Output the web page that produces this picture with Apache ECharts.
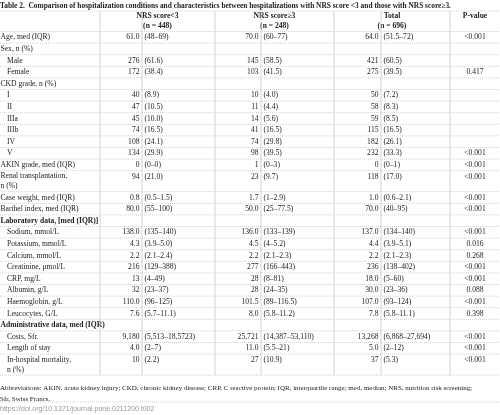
<!DOCTYPE html>
<html>
<head>
<meta charset="utf-8">
<script src="https://cdn.jsdelivr.net/npm/echarts@6/dist/echarts.min.js"></script>
<style>html,body{margin:0;padding:0;background:#fff}#main{width:500px;height:415px}</style>
</head>
<body>
<div id="main"></div>
<script>
// table data
const labels = ["Age, med (IQR)", "Sex, n (%)", "Male", "Female", "CKD grade, n (%)", "I", "II", "IIIa", "IIIb", "IV", "V",
  "AKIN grade, med (IQR)", "Renal transplantation,\nn (%)", "Case weight, med (IQR)", "Barthel index, med (IQR)",
  "Laboratory data, [med (IQR)]", "Sodium, mmol/L", "Potassium, mmol/L", "Calcium, mmol/L", "Creatinine, μmol/L",
  "CRP, mg/L", "Albumin, g/L", "Haemoglobin, g/L", "Leucocytes, G/L", "Administrative data, med (IQR)",
  "Costs, Sfr.", "Length of stay", "In-hospital mortality,\nn (%)"];
const indent = [0,0,1,1,0,1,1,1,1,1,1,0,0,0,0,0,1,1,1,1,1,1,1,1,0,1,1,1];
const bold = [0,0,0,0,0,0,0,0,0,0,0,0,0,0,0,1,0,0,0,0,0,0,0,0,1,0,0,0];
const lowVal = ["61.0","","276","172","","40","47","45","74","108","134","0","94","0.8","80.0","","138.0","4.3","2.2","216","13","32","110.0","7.6","","9,180","4.0","10"];
const lowIqr = ["(48–69)","","(61.6)","(38.4)","","(8.9)","(10.5)","(10.0)","(16.5)","(24.1)","(29.9)","(0–0)","(21.0)","(0.5–1.5)","(55–100)","","(135–140)","(3.9–5.0)","(2.1–2.4)","(129–388)","(4–49)","(23–37)","(96–125)","(5.7–11.1)","","(5,513–18,5723)","(2–7)","(2.2)"];
const highVal = ["70.0","","145","103","","10","11","14","41","74","98","1","23","1.7","50.0","","136.0","4.5","2.2","277","28","28","101.5","8.0","","25,721","11.0","27"];
const highIqr = ["(60–77)","","(58.5)","(41.5)","","(4.0)","(4.4)","(5.6)","(16.5)","(29.8)","(39.5)","(0–3)","(9.7)","(1–2.9)","(25–77.5)","","(133–139)","(4–5.2)","(2.1–2.3)","(166–443)","(8–81)","(24–35)","(89–116.5)","(5.8–11.2)","","(14,387–53,110)","(5.5–21)","(10.9)"];
const totVal = ["64.0","","421","275","","50","58","59","115","182","232","0","118","1.0","70.0","","137.0","4.4","2.2","236","18.0","30.0","107.0","7.8","","13,268","5.0","37"];
const totIqr = ["(51.5–72)","","(60.5)","(39.5)","","(7.2)","(8.3)","(8.5)","(16.5)","(26.1)","(33.3)","(0–1)","(17.0)","(0.6–2.1)","(40–95)","","(134–140)","(3.9–5.1)","(2.1–2.3)","(138–402)","(5–60)","(23–36)","(93–124)","(5.8–11.1)","","(6,868–27,694)","(2–12)","(5.3)"];
const pVal = ["<0.001","","","0.417","","","","","","","<0.001","<0.001","<0.001","<0.001","<0.001","","<0.001","0.016","0.268","<0.001","<0.001","0.088","<0.001","0.398","","<0.001","<0.001","<0.001"];
const headers = [["NRS score<3", "(n = 448)"], ["NRS score≥3", "(n = 248)"], ["Total", "(n = 696)"], ["P-value", ""]];
const title = "Table 2.  Comparison of hospitalization conditions and characteristics between hospitalizations with NRS score <3 and those with NRS score≥3.";
const footnote = "Abbreviations: AKIN, acute kidney injury; CKD, chronic kidney disease; CRP, C reactive protein; IQR, interquartile range; med, median; NRS, nutrition risk screening;\nSfr, Swiss Francs.";
const doi = "https://doi.org/10.1371/journal.pone.0211200.t002";

const chart = echarts.init(document.getElementById('main'));
const F = '"Liberation Serif", "DejaVu Serif", serif';
const cols = [0, 100, 142, 215, 261, 334, 381, 450, 500];
const grey = '#c8c8c8';
const g = [];
function txt(x, y, s, opt) {
  g.push({ type: 'text', x: x, y: y, style: Object.assign({ text: s, font: '7.6px ' + F, fill: '#222', verticalAlign: 'middle' }, opt || {}) });
}
function hline(y) {
  g.push({ type: 'line', shape: { x1: 0, y1: y, x2: 500, y2: y }, style: { stroke: grey, lineWidth: 0.8, lineDash: [1, 1] } });
}
txt(0, 6, title, { font: 'bold 7.4px ' + F });
const tableTop = 11, headBottom = 31.5;
hline(tableTop); hline(headBottom);
headers.forEach((h, i) => {
  const cx = i < 3 ? (cols[1 + 2 * i] + cols[3 + 2 * i]) / 2 : (cols[7] + cols[8]) / 2;
  txt(cx, 16.5, h[0], { font: 'bold 7.6px ' + F, align: 'center' });
  if (h[1]) txt(cx, 26, h[1], { font: 'bold 7.6px ' + F, align: 'center' });
});
let y = headBottom;
labels.forEach((lab, i) => {
  const two = lab.indexOf('\n') >= 0;
  const h = two ? 21 : 11.6;
  const cy = y + 5.8;
  txt(indent[i] ? 7 : 0.5, two ? y + 10.5 : cy, lab, { font: (bold[i] ? 'bold ' : '') + '7.6px ' + F, lineHeight: 9.8 });
  const vals = [lowVal, highVal, totVal], iqrs = [lowIqr, highIqr, totIqr];
  for (let c = 0; c < 3; c++) {
    txt(cols[2 + 2 * c] - 2.5, cy, vals[c][i], { align: 'right' });
    txt(cols[2 + 2 * c] + 2.5, cy, iqrs[c][i], { align: 'left' });
  }
  txt(475, cy, pVal[i], { align: 'center' });
  y += h;
  hline(y);
});
const tableBottom = y;
[1, 2, 3, 4, 5, 6, 7].forEach(k => {
  g.push({ type: 'line', shape: { x1: cols[k], y1: tableTop, x2: cols[k], y2: tableBottom }, style: { stroke: grey, lineWidth: 0.8 } });
});
txt(0, tableBottom + 8, footnote, { font: '7px ' + F, lineHeight: 11, verticalAlign: 'top' });
g.push({ type: 'line', shape: { x1: 0, y1: 402, x2: 500, y2: 402 }, style: { stroke: grey, lineWidth: 0.8, lineDash: [1, 1] } });
txt(0, 409.5, doi, { font: '7px "Liberation Sans", sans-serif', fill: '#999' });

chart.setOption({ animation: false, graphic: { elements: g } });
</script>
</body>
</html>
